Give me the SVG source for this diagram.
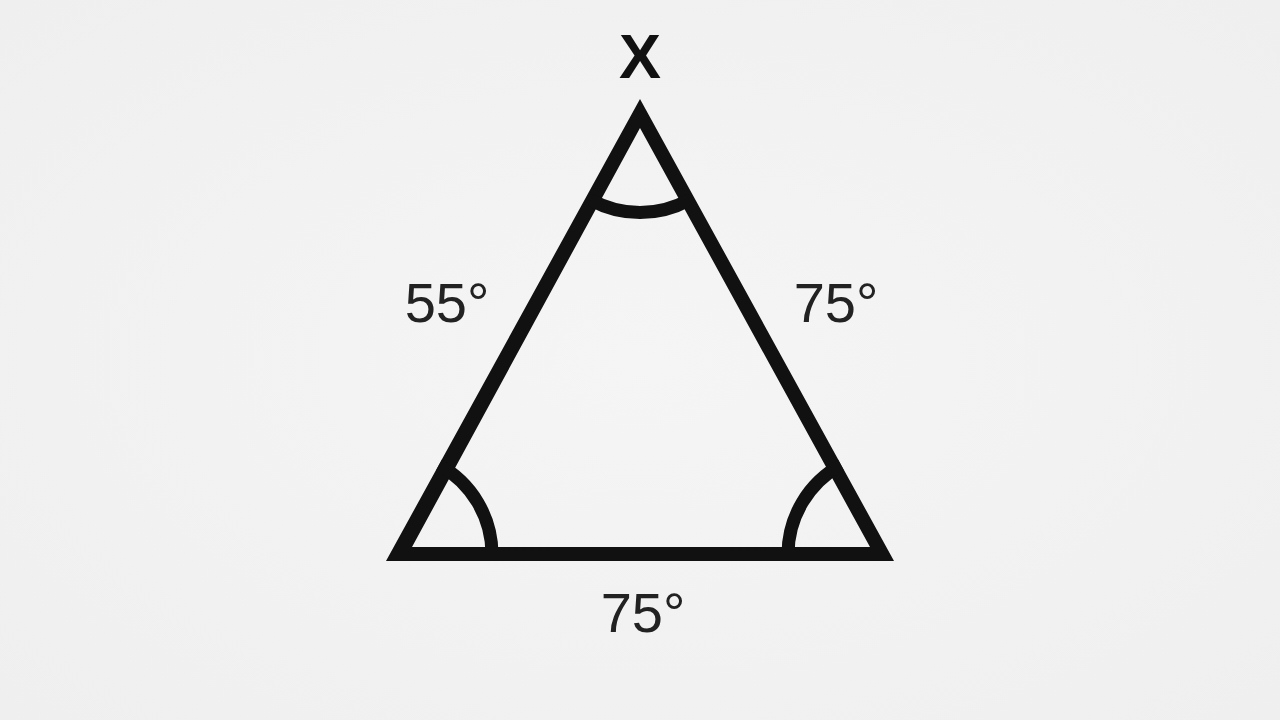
<svg xmlns="http://www.w3.org/2000/svg" width="1280" height="720" viewBox="0 0 1280 720">
  <defs>
    <radialGradient id="bg" cx="50%" cy="50%" r="70%">
      <stop offset="0" stop-color="#f5f5f5"/>
      <stop offset="1" stop-color="#efefef"/>
    </radialGradient>
    <style>
      .arc { fill: none; stroke: #111; stroke-width: 13; }
      .lbl { font-family: "Liberation Sans", Arial, sans-serif; font-size: 56px; fill: #222; text-anchor: middle; }
      .top { font-family: "Liberation Sans", Arial, sans-serif; font-size: 63px; font-weight: bold; fill: #111; text-anchor: middle; }
    </style>
  </defs>
  <rect width="1280" height="720" fill="url(#bg)"/>
  <g id="triangle">
    <path d="M640 99 L386 561 L894 561 Z M640 128 L870 547 L412 547 Z" fill="#111" fill-rule="evenodd"/>
  </g>
  <g id="angle-arcs">
    <path class="arc" d="M591 200 A102 102 0 0 0 689 200"/>
    <path class="arc" d="M439 465 A102 102 0 0 1 492 554"/>
    <path class="arc" d="M841 465 A102 102 0 0 0 788 554"/>
  </g>
  <g id="labels">
    <text class="top" x="640" y="78">X</text>
    <text class="lbl" x="447" y="322">55°</text>
    <text class="lbl" x="836" y="322">75°</text>
    <text class="lbl" x="643" y="632">75°</text>
  </g>
</svg>
